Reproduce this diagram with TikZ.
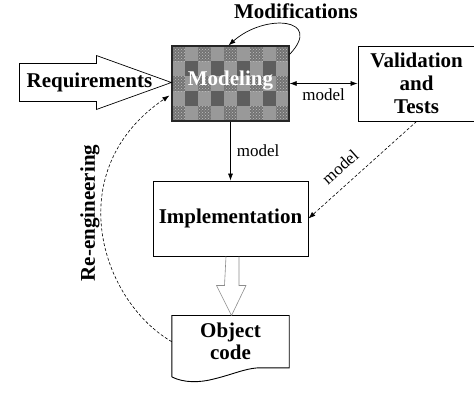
\documentclass[tikz,border=0pt]{standalone}
\usepackage{fontspec}
\setmainfont{Liberation Serif}
\usetikzlibrary{arrows.meta,calc,positioning,patterns}
\tikzset{
    >={Latex[length=7pt,width=5pt]},semithick,
    box/.style={rectangle,draw,line width=0.9pt,align=center,inner sep=0pt,
        font=\fontsize{21}{23}\selectfont\bfseries},
    lbl/.style={font=\fontsize{17}{19}\selectfont,inner sep=2pt},
    title/.style={font=\fontsize{21}{23}\selectfont\bfseries,inner sep=0pt},
    back/.style={->,dashed,dash pattern=on 3pt off 2pt,line width=0.6pt},
    celldark/.style={fill=black!63},
    celldot/.style={fill=black!55,postaction={pattern=crosshatch dots,pattern color=black!25}}
}

\begin{document}
\begin{tikzpicture}[x=1pt,y=-1pt]
\useasboundingbox (0,0) rectangle (474,402);
% boxes
\node[box,minimum width=117pt,minimum height=75pt,fill=black!40,draw=black!85,line width=1.2pt,
  path picture={
    \foreach \c in {0,...,8}{
      \foreach \r in {0,...,4}{
        \pgfmathtruncatemacro\cellpar{mod(\r+\c,2)}
        \ifnum\cellpar=0
          \ifodd\r
            \fill[celldark] ($(path picture bounding box.north west)+(\c*13,\r*15)$) rectangle +(13,15);
          \else
            \fill[celldot] ($(path picture bounding box.north west)+(\c*13,\r*15)$) rectangle +(13,15);
          \fi
        \fi
      }
    }
  }](mod) at (230.5,83.5){};
\node[title,text=white] at ($(mod.center)+(0,-3)$){Modeling};
\node[box,minimum width=117pt,minimum height=75pt](val)[right=68pt of mod]{Validation\\and\\Tests};
\node[box,minimum width=155pt,minimum height=75pt](impl)[below=59pt of mod]{Implementation};
\node[title,minimum width=117pt,minimum height=52pt,align=center,font=\fontsize{21}{22}\selectfont\bfseries](obj)[below=59pt of impl]{Object\\code};
\draw[line width=0.9pt] ($(obj.south west)+(0,9)$) -- (obj.north west) -- (obj.north east) -- (obj.south east)
  -- ++(-32,0) .. controls ++(-13,1) and ++(20,-5) .. ++(-43,11)
  .. controls ++(-15,4) and ++(12,6) .. ($(obj.south west)+(0,9)$);
% requirements
\coordinate (reqtip) at ($(mod.west)+(0,-1)$);
\draw[line width=0.7pt] (reqtip) -- ++(-75,-27) -- ++(0,8) -- ++(-77,0) -- ++(0,38) -- ++(77,0) -- ++(0,8) -- cycle;
\node[title](req) at ($(reqtip)+(-82,0)$){Requirements};
% object code arrow
\coordinate (objtip) at ($(obj.north)+(1,0)$);
\draw[black!45,line width=0.6pt] (objtip) -- ++(-15,-30) -- ++(8,0) -- ($(impl.south)+(-4.5,0)$)
  ($(impl.south)+(8.5,0)$) -- ++(0,29) -- ++(7,0) -- (objtip);
% connectors
\path[<->,line width=0.7pt](mod)edge node[lbl,below=3pt]{model}(val);
\draw[->,line width=0.7pt](mod.south)--node[lbl,right=4pt]{model}(mod.south |- impl.north);
\draw[back](val.south)--node[lbl,sloped,above=9pt,pos=0.6]{model}(impl.east);
\draw[back](obj.west) .. controls (100,300) and (60,170) .. ($(mod.west)+(-2,12)$);
\node[title,rotate=90](reeng) at (90,213){Re-engineering};
\draw[->,line width=0.7pt]($(mod.north east)+(0,9)$) .. controls (324,18) and (265,13) .. ($(mod.north)+(-2,0)$);
\node[title](modif) at ($(mod.north)+(65.5,-34)$){Modifications};
\end{tikzpicture}
\end{document}
